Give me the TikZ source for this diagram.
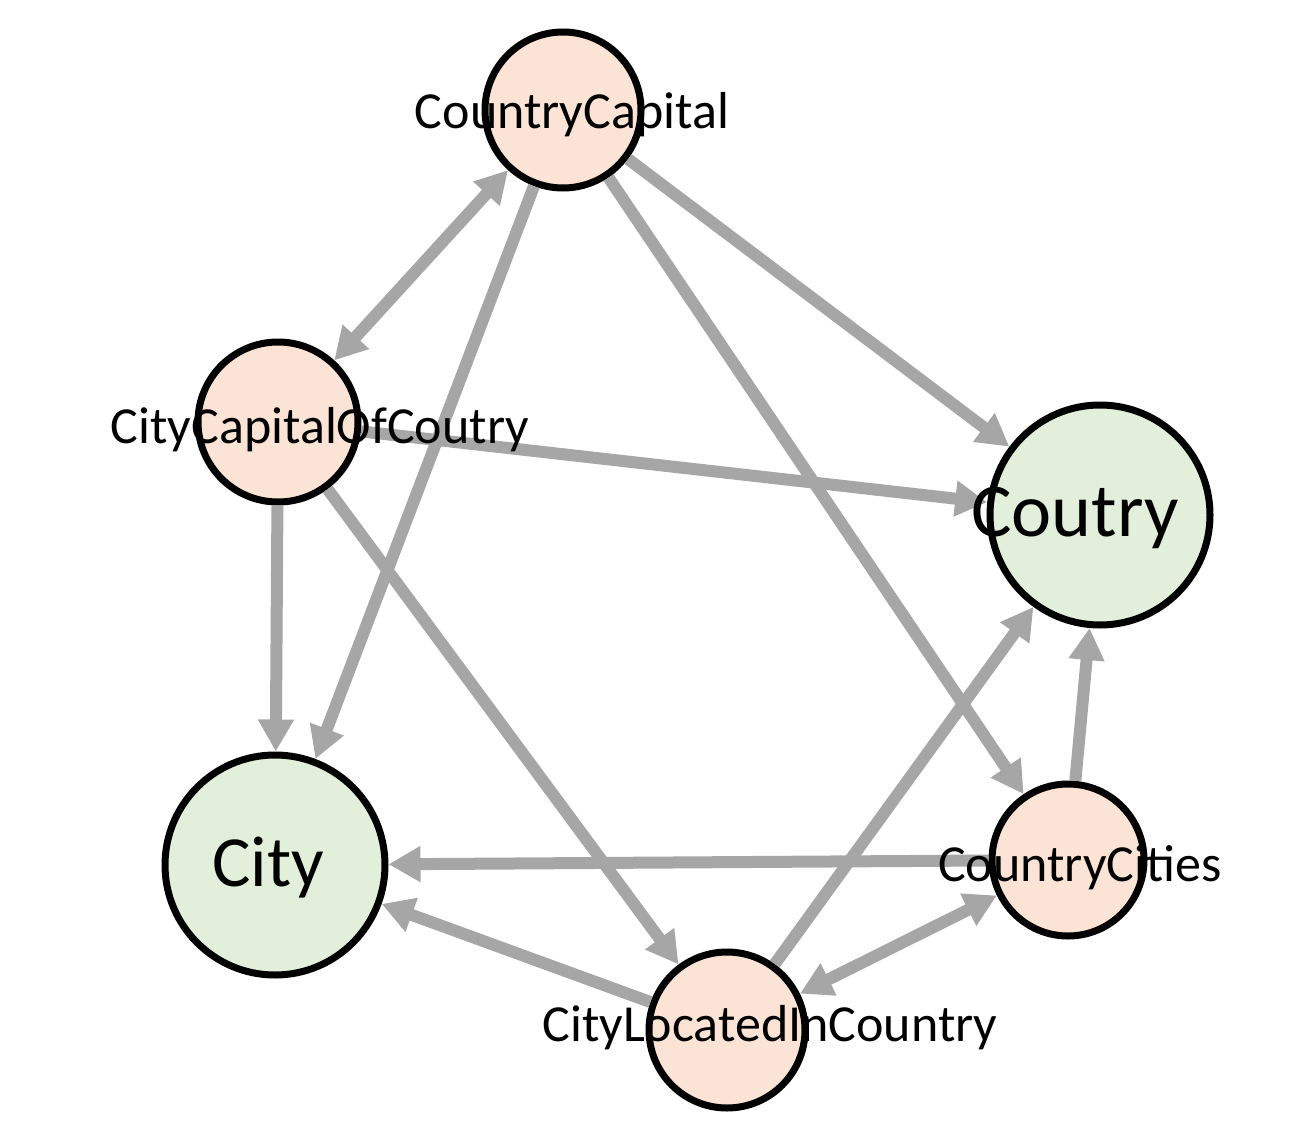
\documentclass[tikz,border=0pt]{standalone}
\usepackage{fontspec}
\setmainfont{Carlito}
\usetikzlibrary{arrows.meta}
\definecolor{relfill}{HTML}{FBE3D5}
\definecolor{entfill}{HTML}{E2EFDA}
\definecolor{edgegray}{HTML}{A6A6A6}
\begin{document}
\begin{tikzpicture}[x=0.5pt,y=-0.5pt,
  rel/.style={circle,draw=black,line width=3.5pt,fill=relfill,inner sep=0pt},
  ent/.style={circle,draw=black,line width=3.5pt,fill=entfill,inner sep=0pt},
  lab/.style={font=\fontsize{26}{28}\selectfont,inner sep=0pt},
  edge/.style={draw=edgegray,line width=6pt,-{Triangle[length=16pt,width=17pt]}},
  bedge/.style={draw=edgegray,line width=6pt,{Triangle[length=16pt,width=17pt]}-{Triangle[length=16pt,width=17pt]}}]
\useasboundingbox (0,0) rectangle (1296,1129);
\node[rel,minimum size=78pt] (cc) at (563,110) {};
\node[rel,minimum size=80pt] (ccoc) at (278,422) {};
\node[ent,minimum size=110pt] (co) at (1100,515) {};
\node[ent,minimum size=110pt] (ci) at (275,865) {};
\node[rel,minimum size=76pt] (cci) at (1068,860) {};
\node[rel,minimum size=78pt] (cl) at (727,1030) {};
\draw[bedge] (cc) -- (ccoc);
\draw[edge] (cc) -- (ci);
\draw[edge] (cc) -- (co);
\draw[edge] (cc) -- (cci);
\draw[edge] (ccoc) -- (co);
\draw[edge] (ccoc) -- (ci);
\draw[edge] (ccoc) -- (cl);
\draw[edge] (cci) -- (ci);
\draw[edge] (cci) -- (co);
\draw[edge] (cl) -- (ci);
\draw[edge] (cl) -- (co);
\draw[bedge] (cl) -- (cci);
\node[lab] (lcc) at (572,115) {CountryCapital};
\node[lab] (lccoc) at (320,430) {CityCapitalOfCoutry};
\node[lab,font=\fontsize{38}{40}\selectfont] (lco) at (1075,518) {Coutry};
\node[lab,font=\fontsize{36}{38}\selectfont] (lci) at (268,868) {City};
\node[lab] (lcci) at (1080,868) {CountryCities};
\node[lab] (lcl) at (770,1028) {CityLocatedInCountry};
\end{tikzpicture}
\end{document}
